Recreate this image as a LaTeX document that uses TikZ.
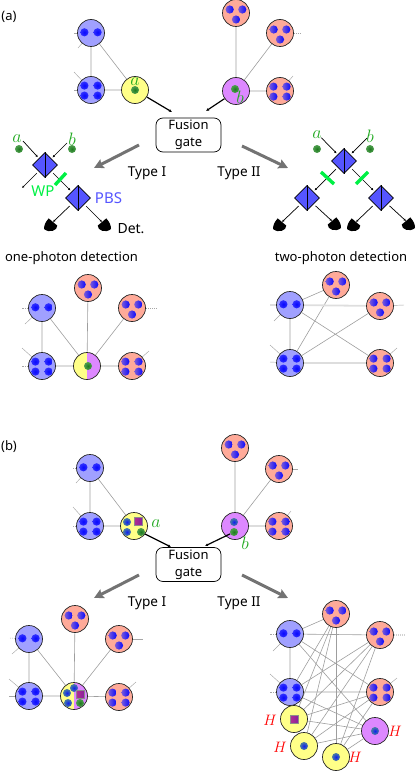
\documentclass[tikz,border=0pt]{standalone}
\usepackage{fontspec}
\setmainfont{Noto Sans}
\usetikzlibrary{arrows.meta,shapes.geometric,backgrounds}
\definecolor{qblue}{HTML}{A0A0FF}
\definecolor{qred}{HTML}{FFAA99}
\definecolor{qyel}{HTML}{FFFF88}
\definecolor{qpur}{HTML}{DD88FF}
\definecolor{pbsc}{HTML}{5555FF}
\definecolor{wpc}{HTML}{00F044}
\definecolor{lab}{HTML}{22AA22}
\definecolor{dbi}{HTML}{0808FF}
\definecolor{dbo}{HTML}{3030FF}
\definecolor{dri}{HTML}{7A5AD8}
\definecolor{dgi}{HTML}{1F7A1F}
\definecolor{dgo}{HTML}{4F9F4F}
\definecolor{dyi}{HTML}{1020F0}
\definecolor{dyo}{HTML}{4A80A0}
\definecolor{sqa}{HTML}{B03090}
\definecolor{sqb}{HTML}{8A1FA0}
\newcounter{stubc}
\newcommand\stub[4][]{\stepcounter{stubc}\coordinate (s\arabic{stubc}) at (#3,#4);\begin{scope}[on background layer]\draw[stubline,#1] (#2) -- (s\arabic{stubc});\end{scope}}
\newcommand\qn[4]{\node[qnode,fill=#4] (#1) at (#2,#3) {};}
\tikzset{
  x=1pt,y=-1pt,
  qnode/.style={circle,draw=black!85,line width=0.7pt,minimum size=27pt,inner sep=0pt},
  halves/.style={qnode,fill=qyel,path picture={\fill[qpur] (path picture bounding box.north) rectangle (path picture bounding box.south east);}},
  edge/.style={draw=black!38,line width=0.6pt},
  fat/.style={draw=black!13,line width=1.8pt},
  stubline/.style={draw=black!35,line width=0.45pt},
  dott/.style={dash pattern=on 1pt off 1pt},
  bd/.style={inner color=dbi,outer color=dbo},
  rd/.style={left color=dri,right color=dbi},
  gd/.style={inner color=dgi,outer color=dgo},
  yd/.style={inner color=dyi,outer color=dyo},
  gball/.style={circle,inner sep=0pt,minimum size=8pt,shade,gd},
  sqr/.style={rectangle,inner sep=0pt,minimum size=7.5pt,draw=black!45,line width=0.4pt,left color=sqa,right color=sqb},
  bar/.style={draw=wpc,line width=3.4pt},
  wire/.style={draw=black,line width=0.7pt},
  wtip/.style={wire,-{Latex[length=2.4pt,width=2.4pt]}},
  feed/.style={draw=black,line width=1.2pt,-{Latex[length=3pt,width=3pt]}},
  big/.style={draw=black!55,line width=3pt,-{Stealth[length=9.5pt,width=9.5pt,inset=1.5pt]}},
  gatebox/.style={draw=black,line width=0.7pt,rounded corners=7pt,minimum width=65pt,minimum height=34pt,inner sep=0pt,align=center,font=\fontsize{13}{17}\selectfont},
  pbs/.style={diamond,aspect=1,draw=black,fill=pbsc,line width=0.7pt,minimum size=25pt,inner sep=0pt},
  txt/.style={font=\fontsize{13}{16}\selectfont,inner sep=0pt},
  typ/.style={font=\fontsize{13.6}{16}\selectfont,inner sep=0pt},
  ital/.style={text=lab,scale=1.25,inner sep=0pt,font=\fontsize{14.4}{15}\selectfont},
  redh/.style={text=red,scale=1.05,inner sep=0pt,font=\fontsize{14.4}{15}\selectfont},
  pics/dtwo/.style={code={\foreach \u in {-6.6,6.6}{\shade[bd] (\u,-0.7) circle[radius=4.1pt];}}},
  pics/dthree/.style={code={\shade[rd] (-6.3,-3.5) circle[radius=4.1pt];\shade[rd] (6.3,-3.5) circle[radius=4.1pt];\shade[rd] (0,6.5) circle[radius=4.1pt];}},
  pics/dfourb/.style={code={\foreach \u in {-6.6,6.6}{\foreach \v in {-4.4,5.6}{\shade[bd] (\u,\v) circle[radius=4.1pt];}}}},
  pics/dfourr/.style={code={\foreach \u in {-6.6,6.6}{\foreach \v in {-4.4,5.6}{\shade[rd] (\u,\v) circle[radius=4.1pt];}}}},
  pics/det/.style={code={\fill[black] (-4.3,-3.6) -- (4.3,3.6) .. controls (4.5,8.5) and (-3.5,11.5) .. (-9,7) .. controls (-9,3) and (-7.5,0) .. cycle;}},
}
\begin{document}
\begin{tikzpicture}
\useasboundingbox (0,0) rectangle (415,773);
\node[txt] (la) at (9,17) {(a)};
\node[txt] (lb) at (9,447) {(b)};

% ---------- panel (a), input graph
\qn{a1}{91}{33}{qblue}\pic at (a1) {dtwo};
\qn{a2}{91}{90}{qblue}\pic at (a2) {dfourb};
\qn{aY}{135}{90}{qyel}
\qn{aP}{236}{91}{qpur}
\qn{aR1}{236}{13}{qred}\pic at (aR1) {dthree};
\qn{aR2}{280}{33}{qred}\pic at (aR2) {dthree};
\qn{aR3}{280}{91}{qred}\pic at (aR3) {dfourr};
\node[gball] (aYd) at (135,90) {};
\node[gball] (aPd) at (235,89) {};
\node[ital] (aYl) at (135,82) {$a$};
\node[ital] (aPl) at (240,97) {$b$};
\begin{scope}[on background layer]
\draw[edge] (a1)--(a2) (a1)--(aY) (a2)--(aY) (aP)--(aR1) (aP)--(aR2);
\draw[fat] (aP)--(aR3);
\end{scope}
\stub{a1}{74}{33}\stub{a1}{78}{48}\stub{a2}{74}{72}\stub{a2}{74}{90}
\stub[dott]{aR2}{300}{33}\stub{aR3}{293}{76}

\node[gatebox] (gA) at (188.5,135) {Fusion\\gate};
\coordinate (gA1) at (172,112);
\coordinate (gA2) at (206,111);
\draw[feed] (aY)--(gA1);
\draw[feed] (aP)--(gA2);
\coordinate (bigA1s) at (139,145);\coordinate (bigA1e) at (94,168);
\coordinate (bigA2s) at (242,146);\coordinate (bigA2e) at (288,168);
\draw[big] (bigA1s)--(bigA1e);
\draw[big] (bigA2s)--(bigA2e);
\node[typ] (tA1) at (147,173) {Type I};
\node[typ] (tA2) at (239,173) {Type II};

% optics, one-photon
\node[pbs] (p1) at (45,165) {};\draw[wire] (p1.north)--(p1.south);
\node[pbs] (p2) at (78,198) {};\draw[wire] (p2.north)--(p2.south);
\node[gball] (oa) at (19,149) {};
\node[gball] (ob) at (72,149) {};
\node[ital] (oal) at (17,139) {$a$};
\node[ital] (obl) at (72,139) {$b$};
\coordinate (w1) at (23,141);\coordinate (w2) at (67,143);
\coordinate (w3) at (22,188);\coordinate (d1) at (53,222);\coordinate (d2) at (102,222);
\draw[wtip,shorten >=1.5pt] (w1)--(p1);
\draw[wtip,shorten >=1.5pt] (w2)--(p1);
\draw[wtip,shorten <=2.5pt] (p1)--(w3);
\draw[wtip,shorten <=2.5pt,shorten >=1.5pt] (p1)--(p2);
\draw[wtip,shorten <=2.5pt] (p2)--(d1);
\draw[wtip,shorten <=2.5pt] (p2)--(d2);
\pic at (d1) {det};
\pic[xscale=-1] at (d2) {det};
\coordinate (b1a) at (55,185);\coordinate (b1b) at (66,173);
\draw[bar] (b1a)--(b1b);
\node[txt,text=wpc,font=\fontsize{15}{16}\selectfont] (wp) at (43,191) {WP};
\node[txt,text=pbsc,font=\fontsize{15}{16}\selectfont] (pl) at (108.5,198) {PBS};
\node[txt,font=\fontsize{14}{16}\selectfont] (dl) at (131,229) {Det.};
\node[txt] (op) at (71.5,258) {one-photon detection};

% optics, two-photon
\node[pbs] (p3) at (344,161) {};\draw[wire] (p3.north)--(p3.south);
\node[pbs] (p4) at (307,198) {};\draw[wire] (p4.north)--(p4.south);
\node[pbs] (p5) at (381,198) {};\draw[wire] (p5.north)--(p5.south);
\node[gball] (oc) at (317,149) {};
\node[gball] (od) at (370,149) {};
\node[ital] (ocl) at (317,135) {$a$};
\node[ital] (odl) at (370,136) {$b$};
\coordinate (w4) at (321.3,137.7);\coordinate (w5) at (367,138);
\coordinate (d3) at (282,222);\coordinate (d4) at (332,221);\coordinate (d5) at (356,222);\coordinate (d6) at (406,221);
\draw[wtip,shorten >=1.5pt] (w4)--(p3);
\draw[wtip,shorten >=1.5pt] (w5)--(p3);
\draw[wtip,shorten <=2.5pt,shorten >=1.5pt] (p3)--(p4);
\draw[wtip,shorten <=2.5pt,shorten >=1.5pt] (p3)--(p5);
\draw[wtip,shorten <=2.5pt] (p4)--(d3);
\draw[wtip,shorten <=2.5pt] (p4)--(d4);
\draw[wtip,shorten <=2.5pt] (p5)--(d5);
\draw[wtip,shorten <=2.5pt] (p5)--(d6);
\pic at (d3) {det};\pic[xscale=-1] at (d4) {det};
\pic at (d5) {det};\pic[xscale=-1] at (d6) {det};
\coordinate (b2a) at (321,172);\coordinate (b2b) at (334,184);
\coordinate (b3a) at (356,184);\coordinate (b3b) at (368,172);
\draw[bar] (b2a)--(b2b);
\draw[bar] (b3a)--(b3b);
\node[txt] (tp) at (341,258) {two-photon detection};

% ---------- panel (a), one-photon result
\qn{c1}{42}{308}{qblue}\pic at (c1) {dtwo};
\qn{c2}{42}{366}{qblue}\pic at (c2) {dfourb};
\node[halves] (cC) at (87,366) {};
\node[gball] (cCd) at (88,366) {};
\qn{cR1}{88}{288}{qred}\pic at (cR1) {dthree};
\qn{cR2}{132}{308}{qred}\pic at (cR2) {dthree};
\qn{cR3}{132}{366}{qred}\pic at (cR3) {dfourr};
\begin{scope}[on background layer]
\draw[edge] (c1)--(c2) (c1)--(cC) (c2)--(cC) (cC)--(cR1) (cC)--(cR2) (cC)--(cR3);
\end{scope}
\stub[dott]{c1}{22}{308}\stub{c1}{25}{324}\stub{c2}{22}{348}\stub[dott]{c2}{22}{366}
\stub[dott]{cR2}{156}{308}\stub{cR3}{149}{351}

% ---------- panel (a), two-photon result
\qn{e1}{290}{305}{qblue}\pic at (e1) {dtwo};
\qn{e2}{290}{363}{qblue}\pic at (e2) {dfourb};
\qn{eR1}{336}{285}{qred}\pic at (eR1) {dthree};
\qn{eR2}{380}{306}{qred}\pic at (eR2) {dthree};
\qn{eR3}{380}{363}{qred}\pic at (eR3) {dfourr};
\begin{scope}[on background layer]
\draw[edge] (e1)--(e2) (e1)--(eR1) (e1)--(eR3) (e2)--(eR1) (e2)--(eR2) (e2)--(eR3);
\draw[fat] (e1)--(eR2);
\end{scope}
\stub[fat]{e1}{270}{305}\stub{e1}{274}{321}\stub{e2}{270}{345}\stub{e2}{270}{362}
\stub{eR2}{404}{305}\stub{eR3}{397}{348}

% ---------- panel (b), input graph
\qn{f1}{90}{468}{qblue}\pic at (f1) {dtwo};
\qn{f2}{90}{526}{qblue}\pic at (f2) {dfourb};
\qn{fY}{134}{526}{qyel}
\qn{fP}{235}{526}{qpur}
\qn{fR1}{235}{448}{qred}\pic at (fR1) {dthree};
\qn{fR2}{279}{469}{qred}\pic at (fR2) {dthree};
\qn{fR3}{279}{526}{qred}\pic at (fR3) {dfourr};
\shade[yd] (127,522) circle[radius=4pt];
\shade[yd] (127,532) circle[radius=4pt];
\node[sqr] (fYs) at (138,521) {};
\node[gball] (fYg) at (141,532) {};
\shade[yd] (234,522) circle[radius=4pt];
\node[gball] (fPg) at (234,532) {};
\node[ital] (fYl) at (156,524) {$a$};
\node[ital] (fPl) at (245,543) {$b$};
\begin{scope}[on background layer]
\draw[edge] (f1)--(f2) (f1)--(fY) (f2)--(fY) (fP)--(fR1) (fP)--(fR2) (fP)--(fR3);
\end{scope}
\stub[dott]{f1}{73}{468}\stub{f1}{76}{483}\stub{f2}{73}{507}\stub[dott]{f2}{73}{526}
\stub{fR2}{298}{469}\stub{fR3}{291}{511}

\node[gatebox] (gB) at (188.5,564.5) {Fusion\\gate};
\coordinate (gB1) at (171,547);
\coordinate (gB2) at (205,546);
\draw[feed] (fYg)--(gB1);
\draw[feed] (fPg)--(gB2);
\coordinate (bigB1s) at (139,575);\coordinate (bigB1e) at (94,598);
\coordinate (bigB2s) at (242,575);\coordinate (bigB2e) at (288,598);
\draw[big] (bigB1s)--(bigB1e);
\draw[big] (bigB2s)--(bigB2e);
\node[typ] (tB1) at (147,603) {Type I};
\node[typ] (tB2) at (239,603) {Type II};

% ---------- panel (b), type I result
\qn{g1}{29}{639}{qblue}\pic at (g1) {dtwo};
\qn{g2}{29}{696}{qblue}\pic at (g2) {dfourb};
\node[halves] (gC) at (74,696) {};
\qn{gR1}{75}{619}{qred}\pic at (gR1) {dthree};
\qn{gR2}{119}{639}{qred}\pic at (gR2) {dthree};
\qn{gR3}{119}{697}{qred}\pic at (gR3) {dfourr};
\shade[yd] (74,688) circle[radius=4pt];
\shade[yd] (67,693) circle[radius=4pt];
\shade[yd] (68,703) circle[radius=4pt];
\node[sqr] (gCs) at (80,694) {};
\node[gball] (gCg) at (80,703) {};
\begin{scope}[on background layer]
\draw[edge] (g1)--(g2) (g1)--(gC) (g2)--(gC) (gC)--(gR1) (gC)--(gR2) (gC)--(gR3);
\end{scope}
\stub[dott]{g1}{9}{638}\stub{g1}{12}{654}\stub{g2}{9}{679}\stub{g2}{9}{696}
\stub{gR2}{143}{639}\stub{gR3}{136}{682}

% ---------- panel (b), type II result
\qn{h1}{290}{634}{qblue}\pic at (h1) {dtwo};
\qn{h2}{290}{692}{qblue}\pic at (h2) {dfourb};
\qn{hR1}{336}{614}{qred}\pic at (hR1) {dthree};
\qn{hR2}{380}{635}{qred}\pic at (hR2) {dthree};
\qn{hR3}{380}{692}{qred}\pic at (hR3) {dfourr};
\qn{hY1}{294}{719}{qyel}
\qn{hY2}{304}{746}{qyel}
\qn{hY3}{336}{757}{qyel}
\qn{hP}{375}{731}{qpur}
\node[sqr] (hYs) at (294,719) {};
\shade[yd] (304,746) circle[radius=4pt];
\shade[yd] (336,757) circle[radius=4pt];
\shade[yd] (375,731) circle[radius=4pt];
\begin{scope}[on background layer]
\draw[edge] (h1)--(h2) (h1)--(hR1) (h1)--(hR2) (h1)--(hR3) (h1)--(hP);
\draw[edge] (h2)--(hR1) (h2)--(hR2) (h2)--(hR3) (h2)--(hP);
\foreach \r in {hR1,hR2,hR3}{\foreach \s in {hY1,hY2,hY3}{\draw[edge] (\r)--(\s);}}
\foreach \s in {hY1,hY2,hY3}{\draw[edge] (\s)--(hP);}
\end{scope}
\stub[dott]{h1}{270}{634}\stub{h1}{273}{651}\stub{h2}{270}{674}\stub[dott]{h2}{270}{692}
\stub[fat,draw=black!18,dott]{hR2}{404}{635}\stub{hR3}{397}{678}
\node[redh] (H1) at (270,720) {$H$};
\node[redh] (H2) at (280,747) {$H$};
\node[redh] (H3) at (355,757) {$H$};
\node[redh] (H4) at (395,731) {$H$};
\end{tikzpicture}
\end{document}
